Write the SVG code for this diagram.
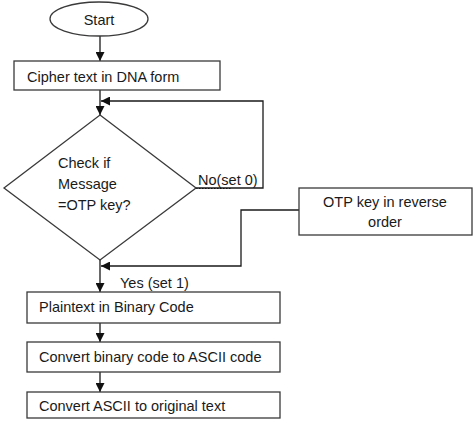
<svg xmlns="http://www.w3.org/2000/svg" width="474" height="421" viewBox="0 0 474 421">
<style>
.s{fill:#fff;stroke:#3a3a3a;stroke-width:1.3}
.t{font-family:"Liberation Sans",Arial,sans-serif;font-size:14.5px;fill:#1a1a1a}
.c{fill:none;stroke:#1a1a1a;stroke-width:1.3}
</style>
<defs>
<marker id="a" viewBox="0 0 10 10" refX="10" refY="5" markerWidth="9" markerHeight="9" markerUnits="userSpaceOnUse" orient="auto"><path d="M0,0L10,5L0,10z" fill="#111"/></marker>
</defs>
<rect width="474" height="421" fill="#fff"/>
<g id="connectors">
<line class="c" x1="100" y1="36" x2="100" y2="61" marker-end="url(#a)"/>
<line class="c" x1="100" y1="90" x2="100" y2="115" marker-end="url(#a)"/>
<polyline class="c" points="196,188 263,188 263,101 101,101" marker-end="url(#a)"/>
<line x1="196" y1="188.5" x2="232" y2="188.5" stroke="#111" stroke-width="1" stroke-dasharray="1.5,1.5"/>
<polyline class="c" points="299,210 241,210 241,266 101,266" marker-end="url(#a)"/>
<line class="c" x1="100" y1="260" x2="100" y2="292" marker-end="url(#a)"/>
<line class="c" x1="100" y1="323" x2="100" y2="342" marker-end="url(#a)"/>
<line class="c" x1="100" y1="372" x2="100" y2="392" marker-end="url(#a)"/>
<text class="t" x="198" y="185">No(set 0)</text>
<text class="t" x="120" y="288">Yes (set 1)</text>
</g>
<g id="start">
<ellipse class="s" cx="99" cy="19" rx="49" ry="17"/>
<text class="t" x="99" y="25" text-anchor="middle">Start</text>
</g>
<g id="cipher">
<rect class="s" x="14" y="61" width="206" height="29"/>
<text class="t" x="27" y="82">Cipher text in DNA form</text>
</g>
<g id="check">
<polygon class="s" points="100,115 196,188 100,260 4,188"/>
<text class="t" x="58" y="168">Check if</text>
<text class="t" x="58" y="189">Message</text>
<text class="t" x="58" y="210">=OTP key?</text>
</g>
<g id="otp">
<rect class="s" x="299" y="188" width="173" height="47"/>
<text class="t" x="385" y="207" text-anchor="middle">OTP key in reverse</text>
<text class="t" x="385" y="227" text-anchor="middle">order</text>
</g>
<g id="plaintext">
<rect class="s" x="27" y="292" width="253" height="31"/>
<text class="t" x="39" y="312">Plaintext in Binary Code</text>
</g>
<g id="convert1">
<rect class="s" x="27" y="342" width="253" height="30"/>
<text class="t" x="39" y="362">Convert binary code to ASCII code</text>
</g>
<g id="convert2">
<rect class="s" x="27" y="392" width="253" height="26"/>
<text class="t" x="39" y="411">Convert ASCII to original text</text>
</g>
</svg>
